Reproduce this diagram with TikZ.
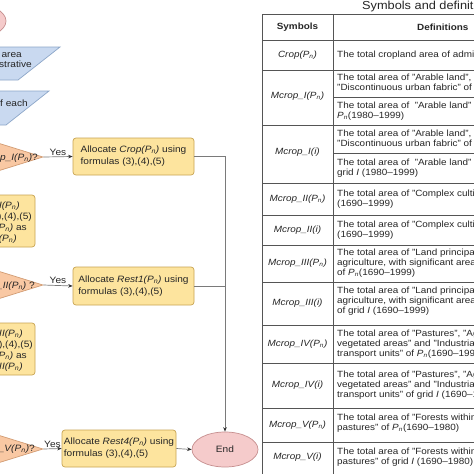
\documentclass[tikz,border=0pt]{standalone}
\usepackage{fontspec}
\setmainfont{Liberation Sans}[FakeStretch=1.1, Ligatures=TeX]
\usetikzlibrary{shapes.geometric,arrows.meta}
\newcommand\Pn{P\textsubscript{n}}
\newcommand\fsz{\fontsize{9.2}{12}\selectfont}
\newcommand\tsz{\fontsize{9}{10}\selectfont}
\definecolor{blfill}{HTML}{C9D9F0}
\definecolor{bldraw}{HTML}{8DA7C9}
\definecolor{orfill}{HTML}{F9C8A3}
\definecolor{ordraw}{HTML}{D29C74}
\definecolor{yefill}{HTML}{FDE49E}
\definecolor{yedraw}{HTML}{C9A452}
\definecolor{pkfill}{HTML}{F5CBCB}
\definecolor{pkdraw}{HTML}{C68E8E}
\definecolor{lnc}{HTML}{7A7A7A}
\definecolor{tblc}{HTML}{555555}
\definecolor{txt}{HTML}{262626}
\begin{document}
\begin{tikzpicture}[x=1pt,y=-1pt,
  fbox/.style={draw=yedraw, fill=yefill, rounded corners=3pt, line width=0.7pt, align=left, font=\fsz, text=txt, inner sep=0pt},
  dshape/.style={diamond, draw=ordraw, fill=orfill, line width=0.7pt, inner sep=0pt, minimum width=186pt, minimum height=58pt},
  eshape/.style={ellipse, draw=pkdraw, fill=pkfill, line width=0.7pt, inner sep=0pt, minimum width=66pt, minimum height=35pt, font=\fsz, text=txt},
  pshape/.style={draw=bldraw, fill=blfill, line width=0.7pt},
  ftext/.style={font=\fsz, text=txt, inner sep=0pt},
  conn/.style={draw=lnc, line width=0.7pt},
  arr/.style={conn, -{Stealth[length=4.5pt,width=3.6pt,color=black!80]}},
  yeslbl/.style={above, font=\fsz, text=txt, inner sep=1.2pt},
  tline/.style={draw=tblc, line width=0.7pt},
  symtext/.style={font=\tsz\itshape, text=txt, inner sep=0pt},
  deftext/.style={font=\tsz, text=txt, inner sep=0pt, anchor=west, align=left},
]
\useasboundingbox (0,0) rectangle (474,474);
\fill[white] (0,0) rectangle (474,474);
\begin{scope}
\clip (0,0) rectangle (474,474);

% ---------- flowchart ----------
\node[eshape] (start) at (-27,21) {};

\draw[pshape] (-200,47) -- (60,47) -- (18,80) -- (-242,80) -- cycle;
\coordinate (p1) at (-90,63.5);
\node[ftext, anchor=base east] (p1a) at (22,57.3) {Input cropland area};
\node[ftext, anchor=base east] (p1b) at (32,67.8) {of each administrative};

\draw[pshape] (-200,91) -- (49,91) -- (6,125) -- (-243,125) -- cycle;
\coordinate (p2) at (-90,108);
\node[ftext, anchor=base east] (p2a) at (28,106.3) {Calculate \textit{Mcrop} of each};

\node[dshape] (d1) at (-50,157) {};
\node[ftext, anchor=base east] (t1) at (38,160.3) {\textit{Crop(\Pn)} ≤ \textit{Mcrop\_I(\Pn)}?};
\node[fbox, minimum width=121pt, minimum height=37pt] (b1) at (133.5,156.5) {Allocate \textit{Crop(\Pn)} using\\formulas (3),(4),(5)};

\node[fbox, minimum width=160pt, minimum height=52pt] (b2) at (-45,221) {};
\node[ftext, anchor=base east] (b2a) at (20,208.3) {Allocate \textit{Mcrop\_I(\Pn)}};
\node[ftext, anchor=base east] (b2b) at (32,219.3) {using formulas (3),(4),(5)};
\node[ftext, anchor=base east] (b2c) at (27,230.3) {and set \textit{Rest1(\Pn)} as};
\node[ftext, anchor=base east] (b2d) at (17,241.3) {\textit{Crop(\Pn)}–\textit{Mcrop\_I(\Pn)}};

\node[dshape] (d2) at (-50,285) {};
\node[ftext, anchor=base east] (t2) at (35,288.3) {\textit{Rest1(\Pn)} ≤ \textit{Mcrop\_II(\Pn)} ?};
\node[fbox, minimum width=121pt, minimum height=38pt] (b3) at (133.5,286) {Allocate \textit{Rest1(\Pn)} using\\formulas (3),(4),(5)};

\node[fbox, minimum width=160pt, minimum height=52pt] (b4) at (-45,349) {};
\node[ftext, anchor=base east] (b4a) at (23,336.3) {Allocate \textit{Mcrop\_II(\Pn)}};
\node[ftext, anchor=base east] (b4b) at (33,347.3) {using formulas (3),(4),(5)};
\node[ftext, anchor=base east] (b4c) at (27,358.3) {and set \textit{Rest2(\Pn)} as};
\node[ftext, anchor=base east] (b4d) at (23,369.3) {\textit{Rest1(\Pn)}–\textit{Mcrop\_II(\Pn)}};

\node[dshape] (d3) at (-50,449) {};
\node[ftext, anchor=base east] (t3) at (35,451.8) {\textit{Rest4(\Pn)} ≤ \textit{Mcrop\_V(\Pn)}?};
\node[fbox, minimum width=114pt, minimum height=37pt] (b5) at (119,448.5) {Allocate \textit{Rest4(\Pn)} using\\formulas (3),(4),(5)};

\node[eshape] (endn) at (225,449.5) {End};

\draw[arr] (d1.east) -- node[yeslbl] {Yes} (b1.west);
\draw[arr] (d2.east) -- node[yeslbl] {Yes} (b3.west);
\draw[arr] (d3.east) -- node[yeslbl] {Yes} (b5.west);
\draw[arr] (b1.east) -| (endn.north);
\draw[conn] (b3.east) -- (b3.east -| endn.north);
\draw[arr] (b5.east) -- (endn.west);

% ---------- table ----------
\node[font=\fontsize{11.6}{13}\selectfont, text=txt, inner sep=0pt, anchor=base west] (title) at (362,9.5) {Symbols and definitions};

\draw[tline] (262,14) rectangle (620,480);
\draw[tline] (333,14) -- (333,480);
\foreach \yy in {40,70,125,183,215,245,282,325,363,408,442}
  \draw[tline] (262,\yy) -- (620,\yy);
\draw[tline] (333,97) -- (620,97);
\draw[tline] (333,153) -- (620,153);

\node[font=\tsz\bfseries, text=txt, inner sep=0pt] (hs) at (297.5,27) {Symbols};
\node[font=\tsz\bfseries, text=txt, inner sep=0pt, anchor=west] (hd) at (417,27) {Definitions};

\node[symtext] (s1) at (297.5,55) {Crop(\Pn)};
\node[symtext] (s2) at (297.5,96) {Mcrop\_I(\Pn)};
\node[symtext] (s3) at (297.5,152) {Mcrop\_I(i)};
\node[symtext] (s4) at (297.5,199) {Mcrop\_II(\Pn)};
\node[symtext] (s5) at (297.5,230) {Mcrop\_II(i)};
\node[symtext] (s6) at (297.5,263.5) {Mcrop\_III(\Pn)};
\node[symtext] (s7) at (297.5,303) {Mcrop\_III(i)};
\node[symtext] (s8) at (297.5,344) {Mcrop\_IV(\Pn)};
\node[symtext] (s9) at (297.5,385.5) {Mcrop\_IV(i)};
\node[symtext] (s10) at (297.5,425) {Mcrop\_V(\Pn)};
\node[symtext] (s11) at (297.5,457) {Mcrop\_V(i)};

\node[deftext] (e1) at (337,55) {The total cropland area of administrative unit \textit{\Pn}};
\node[deftext] (e2) at (337,83.5) {The total area of "Arable land", "Permanent crops" and\\"Discontinuous urban fabric" of \textit{\Pn}(1690–1979)};
\node[deftext] (e3) at (337,111) {The total area of~ "Arable land" of\\\textit{\Pn}(1980–1999)};
\node[deftext] (e4) at (337,139) {The total area of "Arable land", "Permanent crops" and\\"Discontinuous urban fabric" of grid \textit{I} (1690–1979)};
\node[deftext] (e5) at (337,168) {The total area of~ "Arable land" of\\grid \textit{I} (1980–1999)};
\node[deftext] (e6) at (337,199) {The total area of "Complex cultivation patterns" of \textit{\Pn}\\(1690–1999)};
\node[deftext] (e7) at (337,230) {The total area of "Complex cultivation patterns" of grid \textit{I}\\(1690–1999)};
\node[deftext] (e8) at (337,263.5) {The total area of "Land principally occupied by\\agriculture, with significant areas of natural vegetation"\\of \textit{\Pn}(1690–1999)};
\node[deftext] (e9) at (337,301) {The total area of "Land principally occupied by\\agriculture, with significant areas of natural vegetation"\\of grid \textit{I} (1690–1999)};
\node[deftext] (e10) at (337,344) {The total area of "Pastures", "Agro-forestry areas", "Sparsely\\vegetated areas" and "Industrial, commercial and\\transport units" of \textit{\Pn}(1690–1999)};
\node[deftext] (e11) at (337,385) {The total area of "Pastures", "Agro-forestry areas", "Sparsely\\vegetated areas" and "Industrial, commercial and\\transport units" of grid \textit{I} (1690–1999)};
\node[deftext] (e12) at (337,423) {The total area of "Forests within\\pastures" of \textit{\Pn}(1690–1980)};
\node[deftext] (e13) at (337,457) {The total area of "Forests within\\pastures" of grid \textit{I} (1690–1980)};
\end{scope}
\end{tikzpicture}
\end{document}
